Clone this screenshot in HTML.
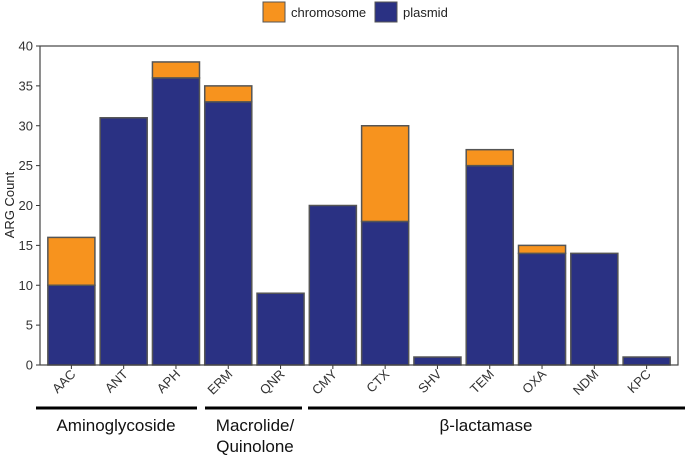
<!DOCTYPE html>
<html><head><meta charset="utf-8"><style>
body{margin:0;background:#fff;font-family:"Liberation Sans",sans-serif}
svg text{font-family:"Liberation Sans",sans-serif}
</style></head><body>
<svg width="685" height="456" id="c">
<g>
<rect x="263" y="2" width="22" height="20" fill="#f7931e" stroke="#555"/>
<text x="291" y="17" font-size="13" fill="#222">chromosome</text>
<rect x="375" y="2" width="22" height="20" fill="#2a3183" stroke="#555"/>
<text x="403" y="17" font-size="13" fill="#222">plasmid</text>
</g>
<text transform="translate(14,205) rotate(-90)" text-anchor="middle" font-size="13" fill="#222">ARG Count</text>
<g id="plot"></g>
<g>
<line x1="36" y1="408" x2="197" y2="408" stroke="#000" stroke-width="3"/>
<text x="116" y="431" text-anchor="middle" font-size="17" fill="#111">Aminoglycoside</text>
<line x1="205" y1="408" x2="302" y2="408" stroke="#000" stroke-width="3"/>
<text x="255" y="431" text-anchor="middle" font-size="17" fill="#111">Macrolide/</text>
<text x="255" y="452" text-anchor="middle" font-size="17" fill="#111">Quinolone</text>
<line x1="308" y1="408" x2="685" y2="408" stroke="#000" stroke-width="3"/>
<text x="486" y="431" text-anchor="middle" font-size="17" fill="#111">β-lactamase</text>
</g>
</svg>
<script>
const categories=["AAC","ANT","APH","ERM","QNR","CMY","CTX","SHV","TEM","OXA","NDM","KPC"];
const plasmid=[10,31,36,33,9,20,18,1,25,14,14,1];
const chromosome=[6,0,2,2,0,0,12,0,2,1,0,0];
const yTicks=[0,5,10,15,20,25,30,35,40];
const NS="http://www.w3.org/2000/svg";
const g=document.getElementById('plot');
const xL=40,xR=678,band=(xR-xL)/12.2,bw=band*0.9,y0=365,yTop=46,yMax=40;
const y=v=>y0-v/yMax*(y0-yTop);
const xc=i=>xL+band*(0.6+i);
function mk(t,a){const e=document.createElementNS(NS,t);for(const k in a)e.setAttribute(k,a[k]);g.appendChild(e);return e;}
categories.forEach((c,i)=>{
 const cx=xc(i);
 let r=mk('rect',{x:cx-bw/2,y:y(plasmid[i]),width:bw,height:y(0)-y(plasmid[i]),fill:'#2a3183',stroke:'#555','stroke-width':1.5});
 
 
 if(chromosome[i]>0){
  let r2=mk('rect',{x:cx-bw/2,y:y(plasmid[i]+chromosome[i]),width:bw,height:y(plasmid[i])-y(plasmid[i]+chromosome[i]),fill:'#f7931e',stroke:'#555','stroke-width':1.5});
  
  
 }
 let tk=mk('line',{x1:cx,x2:cx,y1:y0,y2:y0+4,stroke:'#333'});
 
 
 let t=mk('text',{transform:`translate(${cx+5},${y0+10}) rotate(-45)`,'text-anchor':'end','font-size':13,fill:'#333'});
 t.textContent=c;
 
 
});
yTicks.forEach(v=>{
 let l=mk('line',{x1:36,x2:40,y1:y(v),y2:y(v),stroke:'#333'});
 
 
 let t=mk('text',{x:33,y:y(v)+4.5,'text-anchor':'end','font-size':13,fill:'#333'});
 t.textContent=v;
 
 
});
let ax=mk('rect',{x:xL,y:yTop,width:xR-xL,height:y0-yTop,fill:'none',stroke:'#444','stroke-width':1.2});


</script>
</body></html>
